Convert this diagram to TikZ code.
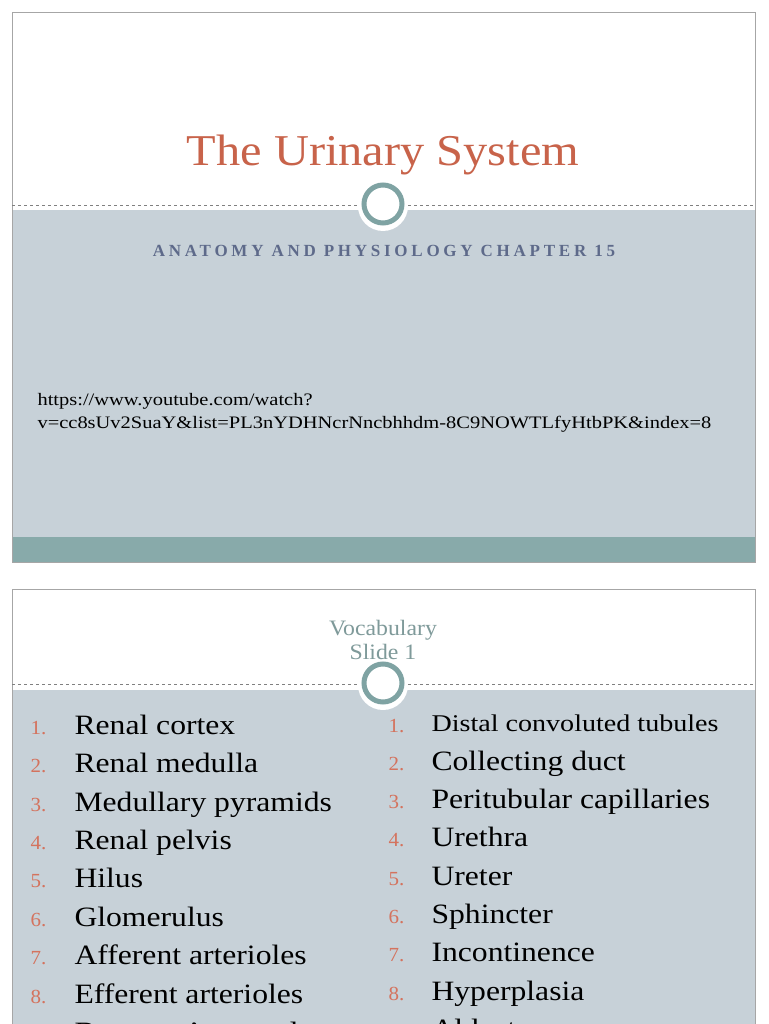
\documentclass[tikz,border=0pt]{standalone}
\usepackage{fontspec}
\setmainfont{Liberation Serif}
\begin{document}
\begin{tikzpicture}[x=1pt,y=-1pt,
  num/.style={anchor=base west,text=numc,font=\fontsize{20}{22}\selectfont\addfontfeatures{FakeStretch=1.05}},
  itm/.style={anchor=base west,text=black,font=\fontsize{28}{30}\selectfont\addfontfeatures{FakeStretch=1.13}},
  ring/.style={circle,draw=ringc,line width=5pt,fill=white,minimum size=38pt}]
\definecolor{panel}{HTML}{C7D1D8}
\definecolor{band}{HTML}{88AAAA}
\definecolor{titc}{HTML}{C8634A}
\definecolor{subc}{HTML}{5E6A8A}
\definecolor{ringc}{HTML}{7FA3A3}
\definecolor{numc}{HTML}{D4735E}
\definecolor{vocc}{HTML}{7F9A9A}
\useasboundingbox (0,0) rectangle (768,1024);
\fill[white] (0,0) rectangle (768,1024);
% slide 1
\fill[panel] (12,210) rectangle (755,537);
\fill[band] (12,537) rectangle (755,562);
\draw[gray!70,line width=0.7pt] (12,12) rectangle (755,562);
\draw[gray,dashed,line width=0.6pt] (12,205) -- (755,205);
\fill[white] (383,206) circle (25);
\node[ring] (c1) at (383,204) {};
\node[text=titc,font=\fontsize{44}{46}\selectfont\addfontfeatures{FakeStretch=1.1}] (t1) at (383,155) {The Urinary System};
\node[text=subc,font=\fontsize{17}{19}\selectfont\bfseries\addfontfeatures{LetterSpace=22}] (s1) at (384,251) {ANATOMY AND PHYSIOLOGY CHAPTER 15};
\node[anchor=west,font=\fontsize{17.5}{19}\selectfont\addfontfeatures{FakeStretch=1.17}] (u1) at (34,401) {https://www.youtube.com/watch?};
\node[anchor=west,font=\fontsize{17.5}{19}\selectfont\addfontfeatures{FakeStretch=1.17}] (u2) at (34,424) {v=cc8sUv2SuaY\&list=PL3nYDHNcrNncbhhdm-8C9NOWTLfyHtbPK\&index=8};
% slide 2
\fill[panel] (12,690) rectangle (755,1030);
\draw[gray!70,line width=0.7pt] (12,1030) -- (12,589) -- (755,589) -- (755,1030);
\draw[gray,dashed,line width=0.6pt] (12,684) -- (755,684);
\fill[white] (383,685) circle (25);
\node[ring] (c2) at (383,683) {};
\node[text=vocc,font=\fontsize{22}{24}\selectfont\addfontfeatures{FakeStretch=1.08},align=center] (v) at (383,640) {Vocabulary\\[0pt]Slide 1};
\foreach \n/\t/\y in {1/Renal cortex/724,2/Renal medulla/762,3/Medullary pyramids/801,4/Renal pelvis/839,5/Hilus/877,6/Glomerulus/916,7/Afferent arterioles/954,8/Efferent arterioles/993,9/Bowman's capsule/1031}{
  \node[num] (ln\n) at (27,\y+10) {\n.};
  \node[itm] (li\n) at (71,\y+10) {\t};}
\node[num] (rn1) at (385,732) {1.};
\node[itm,font=\fontsize{24}{26}\selectfont\addfontfeatures{FakeStretch=1.17}] (ri1) at (428,731) {Distal convoluted tubules};
\foreach \n/\t/\y in {2/Collecting duct/760,3/Peritubular capillaries/798,4/Urethra/836,5/Ureter/875,6/Sphincter/913,7/Incontinence/951,8/Hyperplasia/990,9/Aldosterone/1028}{
  \node[num] (rn\n) at (385,\y+10) {\n.};
  \node[itm] (ri\n) at (428,\y+10) {\t};}
\end{tikzpicture}
\end{document}
